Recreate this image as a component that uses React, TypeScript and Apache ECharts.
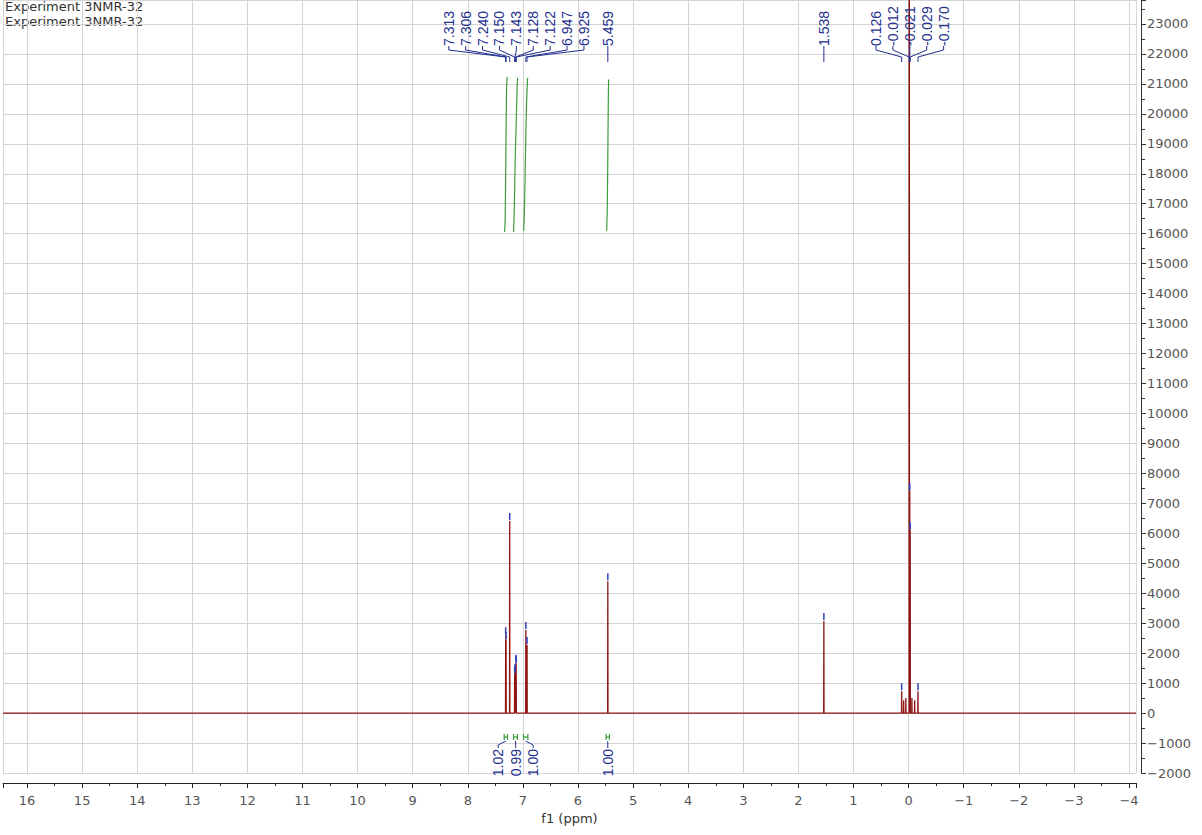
import React, { useEffect, useRef } from "react";
import * as echarts from "echarts";

// ---------- data ----------
const titleLines = ["Experiment 3NMR-32", "Experiment 3NMR-32"];
const xMin = -4.127; // ppm (right edge)
const xMax = 16.436; // ppm (left edge)
const yMin = -2000;
const yMax = 23800;

// picked peaks: chemical shift (ppm) and intensity
const peakPpm = [7.313, 7.306, 7.24, 7.15, 7.143, 7.128, 7.122, 6.947, 6.925, 5.459, 1.538, 0.126, 0.09, 0.05, -0.012, -0.021, -0.029, -0.06, -0.11, -0.17];
const peakHeight = [2600, 2440, 6410, 1300, 1380, 1680, 1640, 2770, 2270, 4400, 3070, 730, 430, 500, 60000, 7400, 6100, 500, 430, 730];

// peak label groups (top annotations)
const labelGroups = [
  ["7.313", "7.306", "7.240", "7.150", "7.143", "7.128", "7.122", "6.947", "6.925"],
  ["5.459"],
  ["1.538"],
  ["0.126", "-0.012", "-0.021", "-0.029", "-0.170"],
];

// integrals
const integralValues = ["1.02", "0.99", "1.00", "1.00"];
const integralFrom = [7.34, 7.17, 6.99, 5.49];
const integralTo = [7.28, 7.1, 6.91, 5.43];
const integralGroups = [[0, 1, 2], [3]];
const integralCurve1 = [[7.333, 16060], [7.322, 16500], [7.31, 18600], [7.298, 20700], [7.287, 21230]];
const integralCurve2 = [[7.169, 16060], [7.155, 17000], [7.14, 18500], [7.12, 19800], [7.105, 20900], [7.096, 21200]];
const integralCurve3 = [[6.987, 16100], [6.975, 16600], [6.955, 18500], [6.935, 20300], [6.915, 21200]];
const integralCurve4 = [[5.481, 16100], [5.47, 16800], [5.459, 18600], [5.45, 20500], [5.445, 21150]];
const integralCurves = [integralCurve1, integralCurve2, integralCurve3, integralCurve4];

// ---------- styles ----------
const RED = "#8e1414";
const BLUE = "#22308f";
const GREEN = "#3c9c3c";
const GRID = "#d4d4d4";
const AXIS_FONT = "DejaVu Sans";
const LABEL_FONT = '14px "Liberation Sans", Arial, sans-serif';

function buildSpectrum(): number[][] {
  const order = peakPpm.map((_, i) => i).sort((a, b) => peakPpm[b] - peakPpm[a]);
  const pts: number[][] = [[xMax, 0]];
  order.forEach((i) => {
    const p = peakPpm[i];
    pts.push([p + 0.003, 0], [p, peakHeight[i]], [p - 0.003, 0]);
  });
  pts.push([xMin, 0]);
  return pts;
}

export default function App() {
  const ref = useRef<HTMLDivElement>(null);

  useEffect(() => {
    const chart = echarts.init(ref.current!, undefined, { renderer: "svg" });

    const peakItems: any[] = [];
    labelGroups.forEach((g) => {
      const vals = g.map(Number);
      const center = (vals[0] + vals[vals.length - 1]) / 2;
      g.forEach((s, i) => {
        const v = Number(s);
        const hi = peakPpm.findIndex((p) => Math.abs(p - v) < 1e-6);
        peakItems.push({ value: [v, center, i, g.length, hi >= 0 ? peakHeight[hi] : 0], name: s });
      });
    });

    const integralItems: any[] = [];
    integralGroups.forEach((g) => {
      const center = g.reduce((s, k) => s + (integralFrom[k] + integralTo[k]) / 2, 0) / g.length;
      g.forEach((k, i) => {
        integralItems.push({ value: [integralFrom[k], integralTo[k], center, i, g.length, 0], name: integralValues[k] });
      });
    });

    const peakLabelSeries = {
      type: "custom",
      z: 5,
      silent: true,
      encode: { x: 0, y: 5 },
      data: peakItems,
      renderItem: (params: any, api: any) => {
        const ppm = api.value(0);
        const center = api.value(1);
        const idx = api.value(2);
        const n = api.value(3);
        const h = api.value(4);
        const px = api.coord([ppm, 0])[0];
        const cx = api.coord([center, 0])[0];
        const sx = n > 1 ? cx + (idx - (n - 1) / 2) * 16.9 : px;
        const topY = api.coord([ppm, h])[1];
        const children: any[] = [
          {
            type: "text",
            x: sx,
            y: 46,
            rotation: Math.PI / 2,
            style: {
              text: peakItems[params.dataIndex].name,
              fill: BLUE,
              font: LABEL_FONT,
              align: "left",
              verticalAlign: "middle",
              textAlign: "left",
              textVerticalAlign: "middle",
            },
          },
          {
            type: "polyline",
            shape: { points: n > 1 ? [[sx, 46], [sx, 50], [px, 57], [px, 62]] : [[px, 46], [px, 62]] },
            style: { stroke: BLUE, lineWidth: 1, fill: null },
          },
        ];
        if (topY - 8 > 0) {
          children.push({
            type: "line",
            shape: { x1: px, y1: topY - 8, x2: px, y2: topY - 1 },
            style: { stroke: "#3040c0", lineWidth: 1.5 },
          });
        }
        return { type: "group", children };
      },
    };

    const integralLabelSeries = {
      type: "custom",
      z: 5,
      silent: true,
      encode: { x: 0, y: 5 },
      data: integralItems,
      renderItem: (params: any, api: any) => {
        const from = api.value(0);
        const to = api.value(1);
        const center = api.value(2);
        const idx = api.value(3);
        const n = api.value(4);
        const x1 = api.coord([from, 0])[0];
        const x2 = api.coord([to, 0])[0];
        const mx = (x1 + x2) / 2;
        const cx = api.coord([center, 0])[0];
        const sx = n > 1 ? cx + (idx - (n - 1) / 2) * 17.5 : mx;
        const children: any[] = [
          { type: "line", shape: { x1, y1: 734, x2: x1, y2: 740 }, style: { stroke: GREEN, lineWidth: 1.2 } },
          { type: "line", shape: { x1: x2, y1: 734, x2, y2: 740 }, style: { stroke: GREEN, lineWidth: 1.2 } },
          { type: "line", shape: { x1, y1: 737, x2, y2: 737 }, style: { stroke: GREEN, lineWidth: 1.2 } },
          {
            type: "polyline",
            shape: { points: n > 1 ? [[mx, 741], [sx, 745], [sx, 748]] : [[mx, 741], [mx, 748]] },
            style: { stroke: BLUE, lineWidth: 1, fill: null },
          },
          {
            type: "text",
            x: sx,
            y: 749,
            rotation: Math.PI / 2,
            style: {
              text: integralItems[params.dataIndex].name,
              fill: BLUE,
              font: LABEL_FONT,
              align: "right",
              verticalAlign: "middle",
              textAlign: "right",
              textVerticalAlign: "middle",
            },
          },
        ];
        return { type: "group", children };
      },
    };

    const integralSeries = integralCurves.map((c) => ({
      type: "line",
      data: c,
      showSymbol: false,
      symbol: "none",
      smooth: 0.4,
      z: 3,
      silent: true,
      lineStyle: { color: GREEN, width: 1.2 },
    }));

    const fmt = (v: number) => (v < 0 ? "\u2212" + Math.abs(v) : String(v));

    const option: any = {
      animation: false,
      backgroundColor: "#ffffff",
      grid: { left: 3, right: 66, top: 0, bottom: 62, containLabel: false },
      xAxis: {
        type: "value",
        min: xMin,
        max: xMax,
        inverse: true,
        minInterval: 1,
        maxInterval: 1,
        offset: 10,
        name: "f1 (ppm)",
        nameLocation: "middle",
        nameGap: 27,
        nameTextStyle: { color: "#333", fontSize: 13, fontFamily: AXIS_FONT },
        axisLine: { show: true, onZero: false, lineStyle: { color: "#222", width: 1 } },
        axisTick: { show: true, length: 5, lineStyle: { color: "#222" } },
        minorTick: { show: true, splitNumber: 2, length: 3, lineStyle: { color: "#222" } },
        axisLabel: {
          show: true,
          margin: 11,
          color: "#555",
          fontSize: 13,
          fontFamily: AXIS_FONT,
          showMinLabel: false,
          showMaxLabel: false,
          formatter: (v: number) => (Math.abs(v - Math.round(v)) < 1e-6 ? fmt(Math.round(v)) : ""),
        },
        splitLine: { show: true, lineStyle: { color: GRID, width: 1 } },
      },
      yAxis: {
        type: "value",
        position: "right",
        min: yMin,
        max: yMax,
        interval: 1000,
        offset: 5,
        axisLine: { show: true, onZero: false, lineStyle: { color: "#333", width: 1 } },
        axisTick: { show: true, length: 5, lineStyle: { color: "#333" } },
        minorTick: { show: true, splitNumber: 2, length: 4, lineStyle: { color: "#333" } },
        axisLabel: {
          show: true,
          margin: 6,
          color: "#555",
          fontSize: 13,
          fontFamily: AXIS_FONT,
          showMaxLabel: false,
          formatter: (v: number) => fmt(v),
        },
        splitLine: { show: true, lineStyle: { color: GRID, width: 1 } },
      },
      graphic: [
        {
          type: "text",
          left: 5,
          top: 0,
          style: { text: titleLines[0], fill: "#333", font: `13px "${AXIS_FONT}"` },
        },
        {
          type: "text",
          left: 5,
          top: 15,
          style: { text: titleLines[1], fill: "#333", font: `13px "${AXIS_FONT}"` },
        },
      ],
      series: [
        {
          type: "line",
          data: buildSpectrum(),
          showSymbol: false,
          symbol: "none",
          clip: true,
          z: 4,
          silent: true,
          lineStyle: { color: RED, width: 1.3 },
        },
        ...integralSeries,
        peakLabelSeries,
        integralLabelSeries,
      ],
    };

    chart.setOption(option);
    return () => chart.dispose();
  }, []);

  return (
    <div
      ref={ref}
      style={{ position: "fixed", left: 0, top: 0, width: 1202, height: 835, background: "#fff" }}
    />
  );
}
